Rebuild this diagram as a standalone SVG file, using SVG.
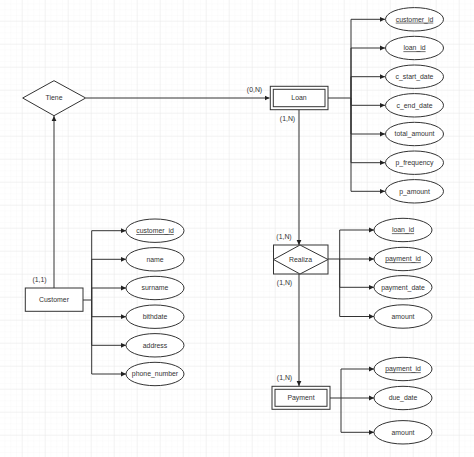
<svg xmlns="http://www.w3.org/2000/svg" width="474" height="457" viewBox="0 0 474 457">
<style>
.s{fill:#fff;stroke:#333;stroke-width:1}
.c{fill:none;stroke:#333;stroke-width:1}
text{font-family:"Liberation Sans",Arial,sans-serif;font-size:6.9px;fill:#333;text-anchor:middle}
.u{text-decoration:underline}
</style>
<defs>
<pattern id="minor" width="5.75" height="5.75" patternUnits="userSpaceOnUse" patternTransform="translate(-0.3,-1.3)">
<path d="M5.75 0V5.75H0" fill="none" stroke="#f3f3f3" stroke-width="0.6"/>
</pattern>
<pattern id="major" width="23" height="23" patternUnits="userSpaceOnUse" patternTransform="translate(-0.3,-1.3)">
<path d="M23 0V23H0" fill="none" stroke="#e2e2e2" stroke-width="0.7"/>
</pattern>
<marker id="a" markerWidth="6" markerHeight="6" refX="5" refY="3" orient="auto" markerUnits="userSpaceOnUse">
<path d="M0,0.6 L5,3 L0,5.4 Z" fill="#222"/>
</marker>
</defs>
<rect width="474" height="457" fill="#fff"/>
<rect width="474" height="457" fill="url(#minor)"/>
<rect width="474" height="457" fill="url(#major)"/>

<g id="connectors" class="c">
<path d="M86,98 H269.5" marker-end="url(#a)"/>
<path d="M54,288 V116" marker-end="url(#a)"/>
<path d="M299,110 V245" marker-end="url(#a)"/>
<path d="M299,274 V386" marker-end="url(#a)"/>
<path d="M328,98 H351 V19.3 H385" marker-end="url(#a)"/>
<path d="M351,98 V48 H385" marker-end="url(#a)"/>
<path d="M351,98 V76.7 H385" marker-end="url(#a)"/>
<path d="M351,98 V105.3 H385" marker-end="url(#a)"/>
<path d="M351,98 V134 H385" marker-end="url(#a)"/>
<path d="M351,98 V162.7 H385" marker-end="url(#a)"/>
<path d="M351,98 V191.3 H385" marker-end="url(#a)"/>
<path d="M83,300 H91.7 V230.7 H126" marker-end="url(#a)"/>
<path d="M91.7,300 V259.3 H126" marker-end="url(#a)"/>
<path d="M91.7,300 V288 H126" marker-end="url(#a)"/>
<path d="M91.7,300 V316.7 H126" marker-end="url(#a)"/>
<path d="M91.7,300 V345.3 H126" marker-end="url(#a)"/>
<path d="M91.7,300 V374 H126" marker-end="url(#a)"/>
<path d="M328,259 H339.7 V230 H374" marker-end="url(#a)"/>
<path d="M339.7,259 H374" marker-end="url(#a)"/>
<path d="M339.7,259 V287.3 H374" marker-end="url(#a)"/>
<path d="M339.7,259 V316.5 H374" marker-end="url(#a)"/>
<path d="M330,398 H341 V369 H374" marker-end="url(#a)"/>
<path d="M341,398 H374" marker-end="url(#a)"/>
<path d="M341,398 V432.3 H374" marker-end="url(#a)"/>
</g>

<g id="labels">
<text x="254.5" y="91.5">(0,N)</text>
<text x="287.5" y="120.5">(1,N)</text>
<text x="39.5" y="281.5">(1,1)</text>
<text x="284" y="238.5">(1,N)</text>
<text x="284.5" y="284.5">(1,N)</text>
<text x="284.5" y="380">(1,N)</text>
</g>

<g id="tiene">
<path class="s" d="M22.7,98 L54,80.7 L85.7,98 L54,115.7 Z"/>
<text x="54" y="100.4">Tiene</text>
</g>
<g id="loan">
<rect class="s" x="270.3" y="86.3" width="57.7" height="23.4"/>
<rect class="s" x="273.3" y="89.3" width="51.7" height="17.4"/>
<text x="299" y="100.4">Loan</text>
</g>
<g id="customer">
<rect class="s" x="25.3" y="288" width="57.7" height="23.3"/>
<text x="54" y="302">Customer</text>
</g>
<g id="realiza">
<rect class="s" x="273.5" y="245" width="54.5" height="29"/>
<path class="s" d="M273.5,259.5 L300,245 L328,259.5 L300,274 Z"/>
<text x="300.5" y="261.9">Realiza</text>
</g>
<g id="payment">
<rect class="s" x="272" y="386.3" width="58" height="23"/>
<rect class="s" x="275" y="389.3" width="52" height="17"/>
<text x="301" y="400.3">Payment</text>
</g>

<g id="loan-attrs">
<g id="l-customer_id"><ellipse class="s" cx="414.5" cy="19.3" rx="29" ry="11.7"/><text class="u" x="414.5" y="21.7">customer_id</text></g>
<g id="l-loan_id"><ellipse class="s" cx="414.5" cy="48" rx="29" ry="11.7"/><text class="u" x="414.5" y="50.4">loan_id</text></g>
<g id="l-c_start_date"><ellipse class="s" cx="414.5" cy="76.7" rx="29" ry="11.7"/><text x="414.5" y="79.1">c_start_date</text></g>
<g id="l-c_end_date"><ellipse class="s" cx="414.5" cy="105.3" rx="29" ry="11.7"/><text x="414.5" y="107.7">c_end_date</text></g>
<g id="l-total_amount"><ellipse class="s" cx="414.5" cy="134" rx="29" ry="11.7"/><text x="414.5" y="136.4">total_amount</text></g>
<g id="l-p_frequency"><ellipse class="s" cx="414.5" cy="162.7" rx="29" ry="11.7"/><text x="414.5" y="165.1">p_frequency</text></g>
<g id="l-p_amount"><ellipse class="s" cx="414.5" cy="191.3" rx="29" ry="11.7"/><text x="414.5" y="193.7">p_amount</text></g>
</g>

<g id="customer-attrs">
<g id="c-customer_id"><ellipse class="s" cx="155" cy="230.7" rx="29" ry="11.7"/><text class="u" x="155" y="233.1">customer_id</text></g>
<g id="c-name"><ellipse class="s" cx="155" cy="259.3" rx="29" ry="11.7"/><text x="155" y="261.7">name</text></g>
<g id="c-surname"><ellipse class="s" cx="155" cy="288" rx="29" ry="11.7"/><text x="155" y="290.4">surname</text></g>
<g id="c-bithdate"><ellipse class="s" cx="155" cy="316.7" rx="29" ry="11.7"/><text x="155" y="319.1">bithdate</text></g>
<g id="c-address"><ellipse class="s" cx="155" cy="345.3" rx="29" ry="11.7"/><text x="155" y="347.7">address</text></g>
<g id="c-phone_number"><ellipse class="s" cx="155" cy="374" rx="29" ry="11.7"/><text x="155" y="376.4">phone_number</text></g>
</g>

<g id="realiza-attrs">
<g id="r-loan_id"><ellipse class="s" cx="403" cy="230" rx="29" ry="11.7"/><text class="u" x="403" y="232.4">loan_id</text></g>
<g id="r-payment_id"><ellipse class="s" cx="403" cy="259" rx="29" ry="11.7"/><text class="u" x="403" y="261.4">payment_id</text></g>
<g id="r-payment_date"><ellipse class="s" cx="403" cy="287.3" rx="29" ry="11.7"/><text x="403" y="289.7">payment_date</text></g>
<g id="r-amount"><ellipse class="s" cx="403" cy="316.5" rx="29" ry="11.7"/><text x="403" y="318.9">amount</text></g>
</g>

<g id="payment-attrs">
<g id="p-payment_id"><ellipse class="s" cx="403" cy="369" rx="29" ry="11.7"/><text class="u" x="403" y="371.4">payment_id</text></g>
<g id="p-due_date"><ellipse class="s" cx="403" cy="398" rx="29" ry="11.7"/><text x="403" y="400.4">due_date</text></g>
<g id="p-amount"><ellipse class="s" cx="403" cy="432.3" rx="29" ry="11.7"/><text x="403" y="434.7">amount</text></g>
</g>
</svg>
